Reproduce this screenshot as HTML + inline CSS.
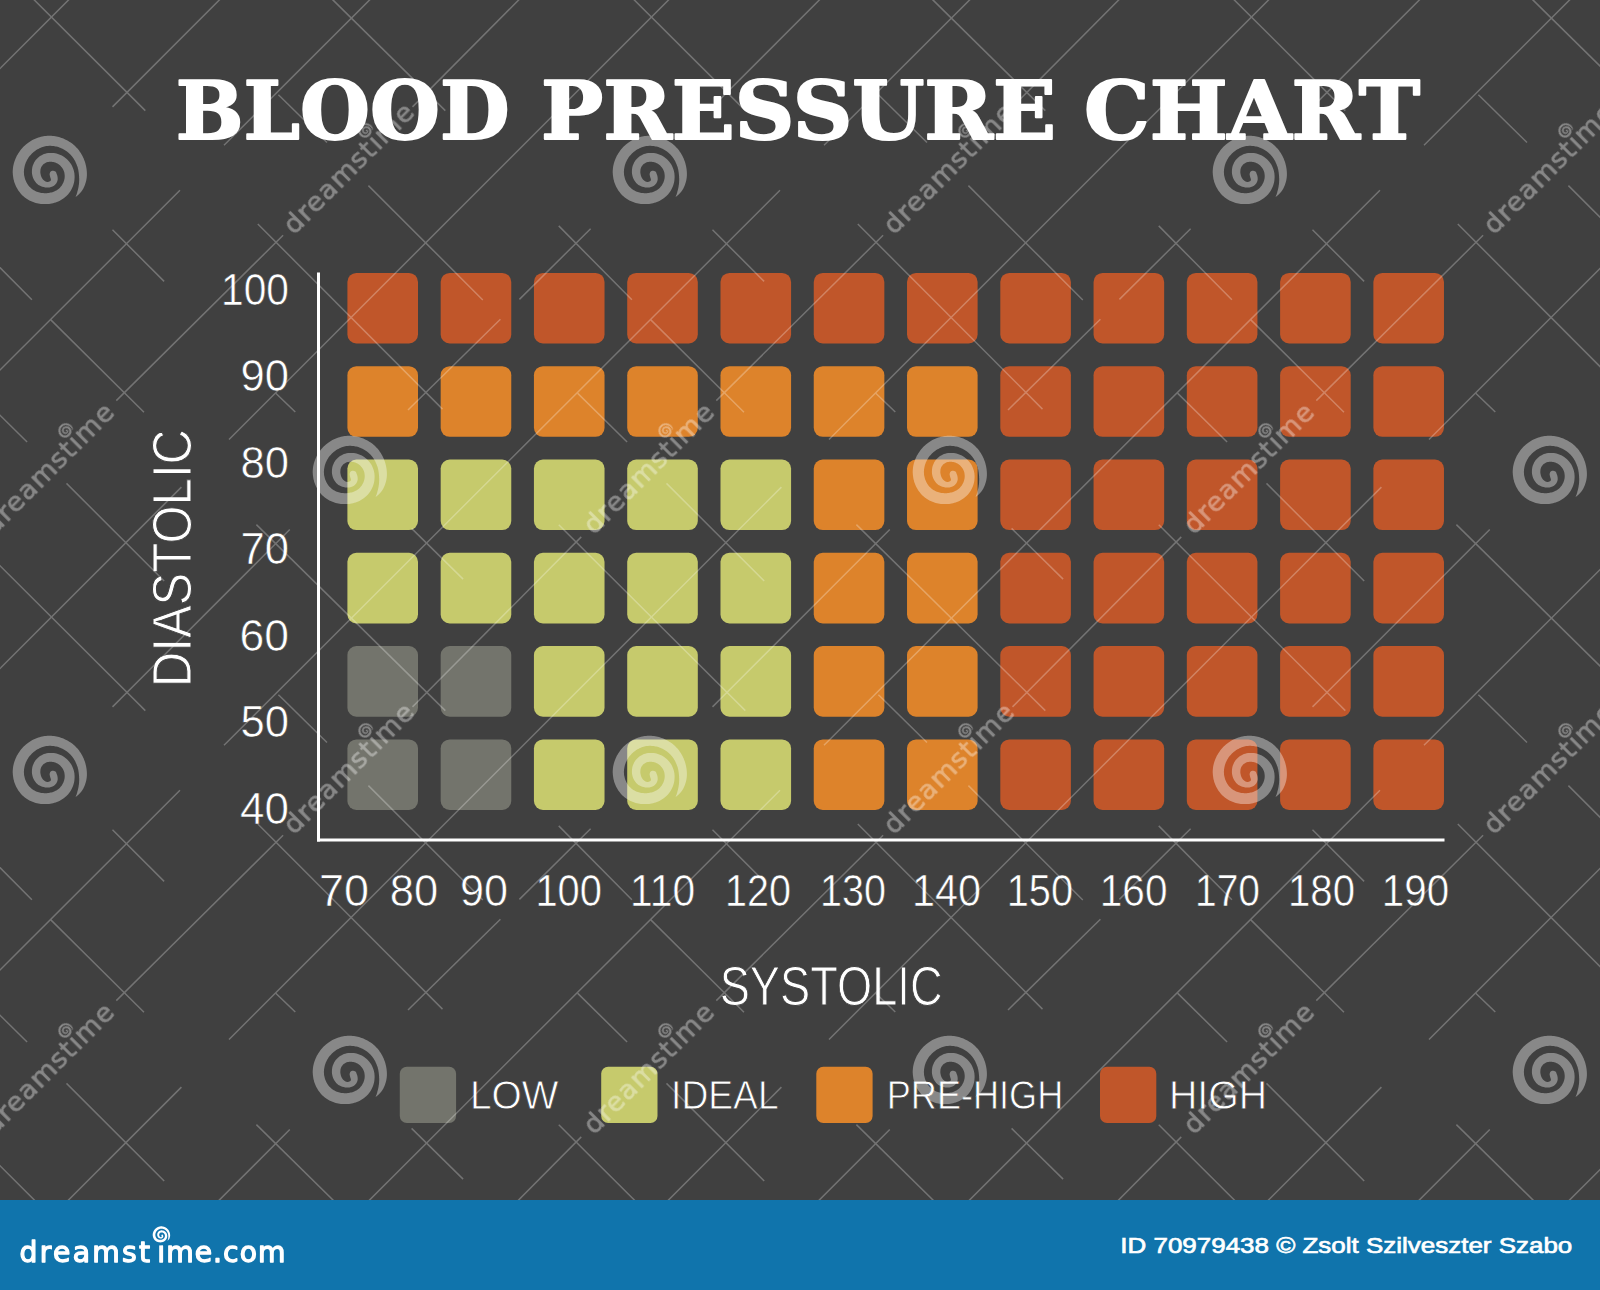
<!DOCTYPE html>
<html lang="en"><head><meta charset="utf-8"><title>Blood Pressure Chart</title>
<style>
html,body{margin:0;padding:0;background:#404040;}
body{width:1600px;height:1290px;overflow:hidden;position:relative;}
svg{display:block;position:absolute;left:0;top:0;}
.t{font-family:"DejaVu Serif","Liberation Serif",serif;font-weight:bold;fill:#fff;stroke:#fff;stroke-width:2;stroke-linejoin:round;}
.n{font-family:"Liberation Sans",sans-serif;fill:#fff;stroke:#404040;}
.f{font-family:"Liberation Sans",sans-serif;fill:#fff;stroke:#fff;stroke-width:0.7;}
.lg{font-family:"DejaVu Sans","Liberation Sans",sans-serif;fill:#fff;stroke:#fff;stroke-width:1.3;stroke-linejoin:round;}
.wm{font-family:"DejaVu Sans","Liberation Sans",sans-serif;fill:#fff;stroke:#fff;stroke-width:0.55;stroke-linejoin:round;}
</style></head><body>
<svg width="1600" height="1290" viewBox="0 0 1600 1290">
<defs><path id="sp" d="M28.4 23.0 L29.4 22.3 L30.3 21.6 L31.2 20.8 L32.0 20.0 L32.9 19.2 L33.6 18.3 L34.4 17.3 L35.1 16.4 L35.7 15.3 L36.3 14.3 L36.8 13.2 L37.3 12.1 L37.7 11.0 L38.1 9.8 L38.5 8.7 L38.8 7.5 L39.1 6.3 L39.3 5.1 L39.5 3.9 L39.6 2.7 L39.7 1.5 L39.7 0.2 L39.7 -1.0 L39.6 -2.3 L39.5 -3.5 L39.4 -4.7 L39.2 -6.0 L39.0 -7.2 L38.7 -8.4 L38.4 -9.6 L38.1 -10.9 L37.7 -12.1 L37.3 -13.2 L36.8 -14.4 L36.4 -15.6 L35.8 -16.7 L35.3 -17.9 L34.7 -19.0 L34.0 -20.1 L33.4 -21.2 L32.6 -22.2 L31.9 -23.3 L31.1 -24.3 L30.3 -25.3 L29.4 -26.2 L28.5 -27.2 L27.6 -28.1 L26.6 -28.9 L25.6 -29.8 L24.6 -30.6 L23.5 -31.3 L22.5 -32.0 L21.4 -32.7 L20.2 -33.4 L19.1 -34.0 L17.9 -34.5 L16.7 -35.1 L15.5 -35.6 L14.3 -36.0 L13.1 -36.4 L11.8 -36.8 L10.6 -37.1 L9.3 -37.4 L8.0 -37.6 L6.7 -37.8 L5.4 -38.0 L4.1 -38.1 L2.8 -38.1 L1.5 -38.1 L0.2 -38.1 L-1.2 -38.0 L-2.5 -37.8 L-3.8 -37.6 L-5.0 -37.4 L-6.3 -37.1 L-7.6 -36.7 L-8.8 -36.3 L-10.1 -35.9 L-11.3 -35.4 L-12.5 -34.9 L-13.7 -34.4 L-14.8 -33.8 L-16.0 -33.1 L-17.1 -32.4 L-18.2 -31.7 L-19.3 -30.9 L-20.3 -30.2 L-21.3 -29.3 L-22.3 -28.5 L-23.3 -27.6 L-24.2 -26.6 L-25.1 -25.6 L-26.0 -24.6 L-26.8 -23.6 L-27.6 -22.5 L-28.3 -21.5 L-29.0 -20.4 L-29.7 -19.2 L-30.4 -18.1 L-30.9 -16.9 L-31.5 -15.7 L-32.0 -14.4 L-32.5 -13.2 L-32.9 -11.9 L-33.3 -10.7 L-33.6 -9.4 L-33.9 -8.1 L-34.1 -6.8 L-34.3 -5.4 L-34.4 -4.1 L-34.5 -2.7 L-34.5 -1.4 L-34.4 -0.0 L-34.3 1.3 L-34.1 2.7 L-33.9 4.0 L-33.7 5.3 L-33.3 6.7 L-33.0 8.0 L-32.5 9.3 L-32.0 10.5 L-31.5 11.8 L-30.9 13.0 L-30.3 14.2 L-29.6 15.4 L-28.9 16.5 L-28.1 17.7 L-27.3 18.7 L-26.4 19.8 L-25.5 20.8 L-24.5 21.8 L-23.5 22.7 L-22.4 23.6 L-21.3 24.4 L-20.2 25.1 L-19.0 25.9 L-17.8 26.5 L-16.6 27.1 L-15.3 27.7 L-14.1 28.2 L-12.8 28.6 L-11.5 29.0 L-10.2 29.3 L-8.9 29.6 L-7.6 29.8 L-6.2 30.0 L-4.9 30.1 L-3.5 30.2 L-2.2 30.2 L-0.8 30.2 L0.5 30.1 L1.9 30.0 L3.2 29.8 L4.5 29.6 L5.9 29.3 L7.2 28.9 L8.5 28.5 L9.7 28.1 L11.0 27.5 L12.2 27.0 L13.4 26.3 L14.6 25.7 L15.8 24.9 L16.9 24.1 L18.0 23.2 L19.0 22.3 L20.0 21.3 L21.0 20.3 L21.9 19.2 L22.7 18.1 L23.5 16.9 L24.2 15.7 L24.8 14.4 L25.4 13.1 L25.9 11.8 L26.3 10.5 L26.7 9.2 L27.0 7.8 L27.2 6.4 L27.3 5.0 L27.4 3.6 L27.4 2.2 L27.3 0.8 L27.2 -0.6 L26.9 -2.0 L26.6 -3.4 L26.2 -4.7 L25.7 -6.0 L25.1 -7.3 L24.5 -8.6 L23.8 -9.8 L23.0 -10.9 L22.1 -12.1 L21.2 -13.1 L20.3 -14.1 L19.2 -15.1 L18.2 -16.0 L17.0 -16.8 L15.8 -17.6 L14.6 -18.3 L13.3 -18.9 L12.0 -19.5 L10.7 -19.9 L9.3 -20.3 L8.0 -20.6 L6.6 -20.9 L5.2 -21.0 L3.7 -21.0 L2.3 -21.0 L0.9 -20.8 L-0.5 -20.6 L-2.0 -20.2 L-3.3 -19.8 L-4.7 -19.2 L-6.0 -18.5 L-7.2 -17.8 L-8.4 -16.9 L-9.5 -16.0 L-10.5 -14.9 L-11.5 -13.8 L-12.3 -12.6 L-13.1 -11.3 L-13.7 -10.0 L-14.3 -8.6 L-14.7 -7.3 L-15.0 -5.8 L-15.2 -4.4 L-15.3 -3.0 L-15.3 -1.5 L-15.2 -0.1 L-14.9 1.3 L-14.6 2.7 L-14.1 4.1 L-13.5 5.4 L-12.8 6.7 L-11.9 7.9 L-11.0 9.0 L-9.9 10.0 L-8.8 11.0 L-7.6 11.7 L-6.2 12.4 L-4.9 12.9 L-3.5 13.2 L-2.0 13.5 L-0.6 13.6 L0.8 13.6 L2.3 13.5 L3.8 13.2 L5.3 12.6 L6.8 11.8 L8.1 10.7 L9.2 9.3 L10.0 7.7 L10.5 5.9 L10.5 4.1 L10.3 2.6 L10.0 1.3 L9.6 0.3 L9.3 -0.5 L9.0 -1.3 L8.5 -2.1 L7.8 -2.7 L6.9 -3.0 L6.0 -3.2 L5.1 -3.1 L4.3 -2.8 L3.5 -2.3 L2.9 -1.6 L2.6 -0.7 L2.4 0.2 L2.5 1.1 L2.8 2.4 L3.1 3.5 L3.4 4.4 L3.6 5.0 L3.7 5.4 L3.7 5.7 L3.7 6.2 L3.5 6.7 L3.2 7.1 L2.7 7.4 L2.2 7.7 L1.5 7.9 L0.7 8.0 L-0.1 8.0 L-0.9 7.8 L-1.7 7.5 L-2.4 7.1 L-3.1 6.6 L-3.7 6.0 L-4.3 5.5 L-4.7 4.9 L-5.2 4.3 L-5.5 3.6 L-5.9 2.9 L-6.1 2.2 L-6.4 1.4 L-6.5 0.6 L-6.7 -0.2 L-6.8 -1.0 L-6.9 -1.9 L-6.8 -2.7 L-6.8 -3.5 L-6.7 -4.3 L-6.5 -5.1 L-6.3 -5.9 L-6.0 -6.6 L-5.6 -7.3 L-5.2 -7.9 L-4.8 -8.5 L-4.3 -9.1 L-3.8 -9.6 L-3.2 -10.1 L-2.5 -10.5 L-1.8 -10.9 L-1.1 -11.3 L-0.3 -11.6 L0.5 -11.8 L1.2 -12.0 L2.0 -12.1 L2.8 -12.1 L3.7 -12.2 L4.5 -12.1 L5.4 -12.0 L6.2 -11.9 L7.0 -11.6 L7.9 -11.4 L8.7 -11.1 L9.5 -10.7 L10.3 -10.3 L11.0 -9.8 L11.7 -9.4 L12.4 -8.8 L13.0 -8.3 L13.6 -7.7 L14.2 -7.0 L14.7 -6.3 L15.2 -5.6 L15.7 -4.9 L16.1 -4.1 L16.4 -3.4 L16.7 -2.6 L17.0 -1.8 L17.2 -1.0 L17.3 -0.2 L17.4 0.7 L17.5 1.5 L17.5 2.3 L17.5 3.2 L17.4 4.0 L17.3 4.9 L17.1 5.7 L16.9 6.6 L16.6 7.4 L16.3 8.3 L15.9 9.1 L15.5 9.9 L15.1 10.6 L14.7 11.4 L14.2 12.1 L13.6 12.7 L13.1 13.4 L12.5 14.0 L11.9 14.5 L11.3 15.1 L10.6 15.6 L9.9 16.1 L9.2 16.5 L8.4 16.9 L7.6 17.3 L6.8 17.7 L6.0 18.0 L5.1 18.3 L4.2 18.5 L3.4 18.7 L2.5 18.9 L1.5 19.1 L0.6 19.2 L-0.3 19.3 L-1.2 19.3 L-2.2 19.3 L-3.1 19.3 L-4.0 19.2 L-4.9 19.1 L-5.8 19.0 L-6.8 18.8 L-7.6 18.6 L-8.5 18.4 L-9.4 18.1 L-10.2 17.8 L-11.1 17.5 L-11.9 17.1 L-12.7 16.7 L-13.4 16.3 L-14.2 15.8 L-14.9 15.4 L-15.5 14.8 L-16.2 14.3 L-16.8 13.7 L-17.4 13.1 L-18.0 12.5 L-18.6 11.8 L-19.1 11.1 L-19.6 10.4 L-20.1 9.6 L-20.5 8.8 L-20.9 8.0 L-21.3 7.2 L-21.7 6.4 L-22.0 5.5 L-22.3 4.7 L-22.5 3.8 L-22.7 2.9 L-22.9 2.0 L-23.1 1.1 L-23.2 0.2 L-23.2 -0.7 L-23.3 -1.6 L-23.3 -2.5 L-23.2 -3.4 L-23.2 -4.2 L-23.0 -5.1 L-22.9 -6.0 L-22.7 -6.9 L-22.5 -7.8 L-22.3 -8.7 L-22.0 -9.6 L-21.7 -10.5 L-21.4 -11.3 L-21.0 -12.2 L-20.6 -13.0 L-20.2 -13.9 L-19.7 -14.7 L-19.2 -15.5 L-18.7 -16.3 L-18.1 -17.1 L-17.6 -17.8 L-17.0 -18.5 L-16.3 -19.2 L-15.7 -19.9 L-15.0 -20.6 L-14.3 -21.2 L-13.6 -21.9 L-12.9 -22.5 L-12.1 -23.0 L-11.3 -23.6 L-10.5 -24.1 L-9.7 -24.6 L-8.9 -25.0 L-8.1 -25.5 L-7.2 -25.9 L-6.3 -26.2 L-5.5 -26.6 L-4.6 -26.9 L-3.7 -27.2 L-2.8 -27.4 L-1.9 -27.6 L-1.0 -27.8 L-0.1 -27.9 L0.9 -28.0 L1.8 -28.1 L2.7 -28.1 L3.7 -28.1 L4.6 -28.0 L5.5 -28.0 L6.5 -27.8 L7.4 -27.7 L8.4 -27.5 L9.3 -27.3 L10.3 -27.1 L11.2 -26.8 L12.1 -26.5 L13.0 -26.1 L13.9 -25.7 L14.8 -25.3 L15.7 -24.9 L16.6 -24.4 L17.4 -24.0 L18.2 -23.4 L19.0 -22.9 L19.8 -22.3 L20.6 -21.7 L21.3 -21.1 L22.0 -20.5 L22.7 -19.8 L23.4 -19.1 L24.0 -18.4 L24.7 -17.7 L25.3 -16.9 L25.8 -16.1 L26.4 -15.3 L26.9 -14.5 L27.4 -13.6 L27.9 -12.8 L28.3 -11.9 L28.7 -11.0 L29.1 -10.1 L29.5 -9.2 L29.8 -8.2 L30.2 -7.3 L30.5 -6.3 L30.7 -5.4 L31.0 -4.4 L31.2 -3.4 L31.3 -2.4 L31.5 -1.4 L31.6 -0.4 L31.7 0.5 L31.8 1.5 L31.9 2.5 L31.9 3.5 L32.0 4.5 L32.0 5.5 L32.0 6.5 L31.9 7.5 L31.9 8.5 L31.8 9.5 L31.7 10.5 L31.5 11.5 L31.4 12.5 L31.2 13.6 L31.0 14.6 L30.8 15.6 L30.5 16.6 L30.2 17.7 L30.0 18.7 L29.6 19.8 L29.3 20.9 L28.8 21.9 L28.4 23.0Z"/><mask id="mw" maskUnits="userSpaceOnUse" x="-100" y="-45" width="200" height="70"><rect x="-100" y="-45" width="200" height="70" fill="#fff"/><circle cx="37.2" cy="-12" r="3.4" fill="#000"/></mask></defs>
<rect x="0" y="0" width="1600" height="1290" fill="#404040"/>
<text class="t" y="139" font-size="81"><tspan x="175.75" textLength="333.75" lengthAdjust="spacingAndGlyphs">BLOOD</tspan> <tspan x="541.00" textLength="515.00" lengthAdjust="spacingAndGlyphs">PRESSURE</tspan> <tspan x="1084.00" textLength="336.00" lengthAdjust="spacingAndGlyphs">CHART</tspan></text>
<rect x="317" y="272.5" width="3" height="569" fill="#fff"/>
<rect x="317" y="838.5" width="1127.5" height="3" fill="#fff"/>
<rect x="347.40" y="272.90" width="70.6" height="70.6" rx="9" ry="9" fill="#c0562a"/>
<rect x="440.67" y="272.90" width="70.6" height="70.6" rx="9" ry="9" fill="#c0562a"/>
<rect x="533.94" y="272.90" width="70.6" height="70.6" rx="9" ry="9" fill="#c0562a"/>
<rect x="627.21" y="272.90" width="70.6" height="70.6" rx="9" ry="9" fill="#c0562a"/>
<rect x="720.48" y="272.90" width="70.6" height="70.6" rx="9" ry="9" fill="#c0562a"/>
<rect x="813.75" y="272.90" width="70.6" height="70.6" rx="9" ry="9" fill="#c0562a"/>
<rect x="907.02" y="272.90" width="70.6" height="70.6" rx="9" ry="9" fill="#c0562a"/>
<rect x="1000.29" y="272.90" width="70.6" height="70.6" rx="9" ry="9" fill="#c0562a"/>
<rect x="1093.56" y="272.90" width="70.6" height="70.6" rx="9" ry="9" fill="#c0562a"/>
<rect x="1186.83" y="272.90" width="70.6" height="70.6" rx="9" ry="9" fill="#c0562a"/>
<rect x="1280.10" y="272.90" width="70.6" height="70.6" rx="9" ry="9" fill="#c0562a"/>
<rect x="1373.37" y="272.90" width="70.6" height="70.6" rx="9" ry="9" fill="#c0562a"/>
<rect x="347.40" y="366.20" width="70.6" height="70.6" rx="9" ry="9" fill="#dd832b"/>
<rect x="440.67" y="366.20" width="70.6" height="70.6" rx="9" ry="9" fill="#dd832b"/>
<rect x="533.94" y="366.20" width="70.6" height="70.6" rx="9" ry="9" fill="#dd832b"/>
<rect x="627.21" y="366.20" width="70.6" height="70.6" rx="9" ry="9" fill="#dd832b"/>
<rect x="720.48" y="366.20" width="70.6" height="70.6" rx="9" ry="9" fill="#dd832b"/>
<rect x="813.75" y="366.20" width="70.6" height="70.6" rx="9" ry="9" fill="#dd832b"/>
<rect x="907.02" y="366.20" width="70.6" height="70.6" rx="9" ry="9" fill="#dd832b"/>
<rect x="1000.29" y="366.20" width="70.6" height="70.6" rx="9" ry="9" fill="#c0562a"/>
<rect x="1093.56" y="366.20" width="70.6" height="70.6" rx="9" ry="9" fill="#c0562a"/>
<rect x="1186.83" y="366.20" width="70.6" height="70.6" rx="9" ry="9" fill="#c0562a"/>
<rect x="1280.10" y="366.20" width="70.6" height="70.6" rx="9" ry="9" fill="#c0562a"/>
<rect x="1373.37" y="366.20" width="70.6" height="70.6" rx="9" ry="9" fill="#c0562a"/>
<rect x="347.40" y="459.50" width="70.6" height="70.6" rx="9" ry="9" fill="#c6ca6c"/>
<rect x="440.67" y="459.50" width="70.6" height="70.6" rx="9" ry="9" fill="#c6ca6c"/>
<rect x="533.94" y="459.50" width="70.6" height="70.6" rx="9" ry="9" fill="#c6ca6c"/>
<rect x="627.21" y="459.50" width="70.6" height="70.6" rx="9" ry="9" fill="#c6ca6c"/>
<rect x="720.48" y="459.50" width="70.6" height="70.6" rx="9" ry="9" fill="#c6ca6c"/>
<rect x="813.75" y="459.50" width="70.6" height="70.6" rx="9" ry="9" fill="#dd832b"/>
<rect x="907.02" y="459.50" width="70.6" height="70.6" rx="9" ry="9" fill="#dd832b"/>
<rect x="1000.29" y="459.50" width="70.6" height="70.6" rx="9" ry="9" fill="#c0562a"/>
<rect x="1093.56" y="459.50" width="70.6" height="70.6" rx="9" ry="9" fill="#c0562a"/>
<rect x="1186.83" y="459.50" width="70.6" height="70.6" rx="9" ry="9" fill="#c0562a"/>
<rect x="1280.10" y="459.50" width="70.6" height="70.6" rx="9" ry="9" fill="#c0562a"/>
<rect x="1373.37" y="459.50" width="70.6" height="70.6" rx="9" ry="9" fill="#c0562a"/>
<rect x="347.40" y="552.80" width="70.6" height="70.6" rx="9" ry="9" fill="#c6ca6c"/>
<rect x="440.67" y="552.80" width="70.6" height="70.6" rx="9" ry="9" fill="#c6ca6c"/>
<rect x="533.94" y="552.80" width="70.6" height="70.6" rx="9" ry="9" fill="#c6ca6c"/>
<rect x="627.21" y="552.80" width="70.6" height="70.6" rx="9" ry="9" fill="#c6ca6c"/>
<rect x="720.48" y="552.80" width="70.6" height="70.6" rx="9" ry="9" fill="#c6ca6c"/>
<rect x="813.75" y="552.80" width="70.6" height="70.6" rx="9" ry="9" fill="#dd832b"/>
<rect x="907.02" y="552.80" width="70.6" height="70.6" rx="9" ry="9" fill="#dd832b"/>
<rect x="1000.29" y="552.80" width="70.6" height="70.6" rx="9" ry="9" fill="#c0562a"/>
<rect x="1093.56" y="552.80" width="70.6" height="70.6" rx="9" ry="9" fill="#c0562a"/>
<rect x="1186.83" y="552.80" width="70.6" height="70.6" rx="9" ry="9" fill="#c0562a"/>
<rect x="1280.10" y="552.80" width="70.6" height="70.6" rx="9" ry="9" fill="#c0562a"/>
<rect x="1373.37" y="552.80" width="70.6" height="70.6" rx="9" ry="9" fill="#c0562a"/>
<rect x="347.40" y="646.10" width="70.6" height="70.6" rx="9" ry="9" fill="#73746c"/>
<rect x="440.67" y="646.10" width="70.6" height="70.6" rx="9" ry="9" fill="#73746c"/>
<rect x="533.94" y="646.10" width="70.6" height="70.6" rx="9" ry="9" fill="#c6ca6c"/>
<rect x="627.21" y="646.10" width="70.6" height="70.6" rx="9" ry="9" fill="#c6ca6c"/>
<rect x="720.48" y="646.10" width="70.6" height="70.6" rx="9" ry="9" fill="#c6ca6c"/>
<rect x="813.75" y="646.10" width="70.6" height="70.6" rx="9" ry="9" fill="#dd832b"/>
<rect x="907.02" y="646.10" width="70.6" height="70.6" rx="9" ry="9" fill="#dd832b"/>
<rect x="1000.29" y="646.10" width="70.6" height="70.6" rx="9" ry="9" fill="#c0562a"/>
<rect x="1093.56" y="646.10" width="70.6" height="70.6" rx="9" ry="9" fill="#c0562a"/>
<rect x="1186.83" y="646.10" width="70.6" height="70.6" rx="9" ry="9" fill="#c0562a"/>
<rect x="1280.10" y="646.10" width="70.6" height="70.6" rx="9" ry="9" fill="#c0562a"/>
<rect x="1373.37" y="646.10" width="70.6" height="70.6" rx="9" ry="9" fill="#c0562a"/>
<rect x="347.40" y="739.40" width="70.6" height="70.6" rx="9" ry="9" fill="#73746c"/>
<rect x="440.67" y="739.40" width="70.6" height="70.6" rx="9" ry="9" fill="#73746c"/>
<rect x="533.94" y="739.40" width="70.6" height="70.6" rx="9" ry="9" fill="#c6ca6c"/>
<rect x="627.21" y="739.40" width="70.6" height="70.6" rx="9" ry="9" fill="#c6ca6c"/>
<rect x="720.48" y="739.40" width="70.6" height="70.6" rx="9" ry="9" fill="#c6ca6c"/>
<rect x="813.75" y="739.40" width="70.6" height="70.6" rx="9" ry="9" fill="#dd832b"/>
<rect x="907.02" y="739.40" width="70.6" height="70.6" rx="9" ry="9" fill="#dd832b"/>
<rect x="1000.29" y="739.40" width="70.6" height="70.6" rx="9" ry="9" fill="#c0562a"/>
<rect x="1093.56" y="739.40" width="70.6" height="70.6" rx="9" ry="9" fill="#c0562a"/>
<rect x="1186.83" y="739.40" width="70.6" height="70.6" rx="9" ry="9" fill="#c0562a"/>
<rect x="1280.10" y="739.40" width="70.6" height="70.6" rx="9" ry="9" fill="#c0562a"/>
<rect x="1373.37" y="739.40" width="70.6" height="70.6" rx="9" ry="9" fill="#c0562a"/>
<text class="n" x="221.00" y="304.5" font-size="45" stroke-width="0.6" textLength="68.00" lengthAdjust="spacingAndGlyphs">100</text>
<text class="n" x="240.50" y="391" font-size="45" stroke-width="0.6" textLength="48.50" lengthAdjust="spacingAndGlyphs">90</text>
<text class="n" x="240.50" y="477.5" font-size="45" stroke-width="0.6" textLength="48.50" lengthAdjust="spacingAndGlyphs">80</text>
<text class="n" x="240.50" y="564" font-size="45" stroke-width="0.6" textLength="48.50" lengthAdjust="spacingAndGlyphs">70</text>
<text class="n" x="239.50" y="650.5" font-size="45" stroke-width="0.6" textLength="49.50" lengthAdjust="spacingAndGlyphs">60</text>
<text class="n" x="240.50" y="737" font-size="45" stroke-width="0.6" textLength="48.50" lengthAdjust="spacingAndGlyphs">50</text>
<text class="n" x="240.10" y="823.5" font-size="45" stroke-width="0.6" textLength="48.90" lengthAdjust="spacingAndGlyphs">40</text>
<text class="n" x="319.10" y="905.5" font-size="45" stroke-width="0.6" textLength="50.00" lengthAdjust="spacingAndGlyphs">70</text>
<text class="n" x="389.70" y="905.5" font-size="45" stroke-width="0.6" textLength="48.40" lengthAdjust="spacingAndGlyphs">80</text>
<text class="n" x="460.00" y="905.5" font-size="45" stroke-width="0.6" textLength="48.00" lengthAdjust="spacingAndGlyphs">90</text>
<text class="n" x="535.40" y="905.5" font-size="45" stroke-width="0.6" textLength="66.60" lengthAdjust="spacingAndGlyphs">100</text>
<text class="n" x="630.10" y="905.5" font-size="45" stroke-width="0.6" textLength="65.00" lengthAdjust="spacingAndGlyphs">110</text>
<text class="n" x="725.00" y="905.5" font-size="45" stroke-width="0.6" textLength="66.00" lengthAdjust="spacingAndGlyphs">120</text>
<text class="n" x="820.00" y="905.5" font-size="45" stroke-width="0.6" textLength="66.00" lengthAdjust="spacingAndGlyphs">130</text>
<text class="n" x="912.10" y="905.5" font-size="45" stroke-width="0.6" textLength="69.00" lengthAdjust="spacingAndGlyphs">140</text>
<text class="n" x="1006.70" y="905.5" font-size="45" stroke-width="0.6" textLength="66.40" lengthAdjust="spacingAndGlyphs">150</text>
<text class="n" x="1099.80" y="905.5" font-size="45" stroke-width="0.6" textLength="67.70" lengthAdjust="spacingAndGlyphs">160</text>
<text class="n" x="1195.00" y="905.5" font-size="45" stroke-width="0.6" textLength="65.00" lengthAdjust="spacingAndGlyphs">170</text>
<text class="n" x="1288.00" y="905.5" font-size="45" stroke-width="0.6" textLength="67.00" lengthAdjust="spacingAndGlyphs">180</text>
<text class="n" x="1381.80" y="905.5" font-size="45" stroke-width="0.6" textLength="67.30" lengthAdjust="spacingAndGlyphs">190</text>
<text class="n" x="719.70" y="1005" font-size="54.8" stroke-width="1" textLength="222.90" lengthAdjust="spacingAndGlyphs">SYSTOLIC</text>
<g transform="translate(190.5 557.2) rotate(-90)">
<text class="n" x="-130.00" y="0.5" font-size="54.8" stroke-width="1" textLength="258.20" lengthAdjust="spacingAndGlyphs">DIASTOLIC</text>
</g>
<rect x="399.8" y="1066.7" width="56.3" height="56.3" rx="7" ry="7" fill="#73746c"/>
<text class="n" x="469.90" y="1109" font-size="41.3" stroke-width="0.8" textLength="88.50" lengthAdjust="spacingAndGlyphs">LOW</text>
<rect x="601.2" y="1066.7" width="56.3" height="56.3" rx="7" ry="7" fill="#c6ca6c"/>
<text class="n" x="671.10" y="1109" font-size="41.3" stroke-width="0.8" textLength="107.50" lengthAdjust="spacingAndGlyphs">IDEAL</text>
<rect x="816.3" y="1066.7" width="56.3" height="56.3" rx="7" ry="7" fill="#dd832b"/>
<text class="n" x="886.80" y="1109" font-size="41.3" stroke-width="0.8" textLength="176.40" lengthAdjust="spacingAndGlyphs">PRE-HIGH</text>
<rect x="1100" y="1066.7" width="56.3" height="56.3" rx="7" ry="7" fill="#c0562a"/>
<text class="n" x="1169.00" y="1109" font-size="41.3" stroke-width="0.8" textLength="98.10" lengthAdjust="spacingAndGlyphs">HIGH</text>
<g opacity="0.38">
<use href="#sp" transform="translate(47.2 173.9)" fill="#fff"/>
<g transform="translate(350 170) rotate(-45)"><text class="wm" mask="url(#mw)" x="-86" y="7" font-size="27" textLength="172" lengthAdjust="spacing">dreamstime</text><use href="#sp" transform="translate(38.5 -16.5) scale(0.2)" fill="#fff"/></g>
<use href="#sp" transform="translate(647.2 173.9)" fill="#fff"/>
<g transform="translate(950 170) rotate(-45)"><text class="wm" mask="url(#mw)" x="-86" y="7" font-size="27" textLength="172" lengthAdjust="spacing">dreamstime</text><use href="#sp" transform="translate(38.5 -16.5) scale(0.2)" fill="#fff"/></g>
<use href="#sp" transform="translate(1247.2 173.9)" fill="#fff"/>
<g transform="translate(1550 170) rotate(-45)"><text class="wm" mask="url(#mw)" x="-86" y="7" font-size="27" textLength="172" lengthAdjust="spacing">dreamstime</text><use href="#sp" transform="translate(38.5 -16.5) scale(0.2)" fill="#fff"/></g>
<g transform="translate(50 470) rotate(-45)"><text class="wm" mask="url(#mw)" x="-86" y="7" font-size="27" textLength="172" lengthAdjust="spacing">dreamstime</text><use href="#sp" transform="translate(38.5 -16.5) scale(0.2)" fill="#fff"/></g>
<use href="#sp" transform="translate(347.2 473.9)" fill="#fff"/>
<g transform="translate(650 470) rotate(-45)"><text class="wm" mask="url(#mw)" x="-86" y="7" font-size="27" textLength="172" lengthAdjust="spacing">dreamstime</text><use href="#sp" transform="translate(38.5 -16.5) scale(0.2)" fill="#fff"/></g>
<use href="#sp" transform="translate(947.2 473.9)" fill="#fff"/>
<g transform="translate(1250 470) rotate(-45)"><text class="wm" mask="url(#mw)" x="-86" y="7" font-size="27" textLength="172" lengthAdjust="spacing">dreamstime</text><use href="#sp" transform="translate(38.5 -16.5) scale(0.2)" fill="#fff"/></g>
<use href="#sp" transform="translate(1547.2 473.9)" fill="#fff"/>
<use href="#sp" transform="translate(47.2 773.9)" fill="#fff"/>
<g transform="translate(350 770) rotate(-45)"><text class="wm" mask="url(#mw)" x="-86" y="7" font-size="27" textLength="172" lengthAdjust="spacing">dreamstime</text><use href="#sp" transform="translate(38.5 -16.5) scale(0.2)" fill="#fff"/></g>
<use href="#sp" transform="translate(647.2 773.9)" fill="#fff"/>
<g transform="translate(950 770) rotate(-45)"><text class="wm" mask="url(#mw)" x="-86" y="7" font-size="27" textLength="172" lengthAdjust="spacing">dreamstime</text><use href="#sp" transform="translate(38.5 -16.5) scale(0.2)" fill="#fff"/></g>
<use href="#sp" transform="translate(1247.2 773.9)" fill="#fff"/>
<g transform="translate(1550 770) rotate(-45)"><text class="wm" mask="url(#mw)" x="-86" y="7" font-size="27" textLength="172" lengthAdjust="spacing">dreamstime</text><use href="#sp" transform="translate(38.5 -16.5) scale(0.2)" fill="#fff"/></g>
<g transform="translate(50 1070) rotate(-45)"><text class="wm" mask="url(#mw)" x="-86" y="7" font-size="27" textLength="172" lengthAdjust="spacing">dreamstime</text><use href="#sp" transform="translate(38.5 -16.5) scale(0.2)" fill="#fff"/></g>
<use href="#sp" transform="translate(347.2 1073.9)" fill="#fff"/>
<g transform="translate(650 1070) rotate(-45)"><text class="wm" mask="url(#mw)" x="-86" y="7" font-size="27" textLength="172" lengthAdjust="spacing">dreamstime</text><use href="#sp" transform="translate(38.5 -16.5) scale(0.2)" fill="#fff"/></g>
<use href="#sp" transform="translate(947.2 1073.9)" fill="#fff"/>
<g transform="translate(1250 1070) rotate(-45)"><text class="wm" mask="url(#mw)" x="-86" y="7" font-size="27" textLength="172" lengthAdjust="spacing">dreamstime</text><use href="#sp" transform="translate(38.5 -16.5) scale(0.2)" fill="#fff"/></g>
<use href="#sp" transform="translate(1547.2 1073.9)" fill="#fff"/>
</g>
<defs><g id="wl"><path d="M229 439.5L781.4 -112.9"/><path d="M112.5 106.9L289.8 -70.5"/><path d="M408 410L500.4 319.2"/><path d="M519.4 299.4L590.6 228.75"/><path d="M224 145.3L780 -409.7"/><path d="M116.3 400.6L283.1 235.3"/><path d="M412.5 106.9L581.25 -63.1"/><path d="M-41.25 -75.3L145.3 110.6"/><path d="M257.8 224L442.5 409.1"/><path d="M278.4 94.7L327 142.5"/><path d="M368.4 185.6L482.8 300"/><path d="M577.5 393.1L627.1 442"/><path d="M66.5 483.4L164.2 581"/><path d="M558.75 225.9L631.9 299.8"/><path d="M50.6 319.6L144 412.3"/><path d="M256.4 524.6L445.3 710.6"/><path d="M112.5 229.7L164.1 281.4"/><path d="M275.5 393L295.3 412"/><path d="M411.6 528.4L463.1 579.1"/></g></defs>
<g opacity="0.27" stroke="#fff" stroke-width="1.5" fill="none">
<use href="#wl" x="-600" y="-600"/>
<use href="#wl" x="0" y="-600"/>
<use href="#wl" x="600" y="-600"/>
<use href="#wl" x="1200" y="-600"/>
<use href="#wl" x="-600" y="0"/>
<use href="#wl" x="0" y="0"/>
<use href="#wl" x="600" y="0"/>
<use href="#wl" x="1200" y="0"/>
<use href="#wl" x="-600" y="600"/>
<use href="#wl" x="0" y="600"/>
<use href="#wl" x="600" y="600"/>
<use href="#wl" x="1200" y="600"/>
<use href="#wl" x="-600" y="1200"/>
<use href="#wl" x="0" y="1200"/>
<use href="#wl" x="600" y="1200"/>
<use href="#wl" x="1200" y="1200"/>
</g>
<rect x="0" y="1200" width="1600" height="90" fill="#1074ac"/>
<mask id="ml" maskUnits="userSpaceOnUse" x="0" y="1200" width="400" height="90"><rect x="0" y="1200" width="400" height="90" fill="#fff"/><circle cx="160.8" cy="1241" r="4.2" fill="#000"/></mask>
<text class="lg" mask="url(#ml)" y="1262.4" font-size="28.2"><tspan x="19.6" letter-spacing="2.3">dreamst</tspan><tspan x="157.3" letter-spacing="1.05">ime.com</tspan></text>
<use href="#sp" transform="translate(160.8 1235.3) scale(0.235)" fill="#fff"/>
<text class="f" x="1120.3" y="1253.2" font-size="22.8" textLength="452" lengthAdjust="spacingAndGlyphs">ID 70979438 © Zsolt Szilveszter Szabo</text>
</svg>
</body></html>
